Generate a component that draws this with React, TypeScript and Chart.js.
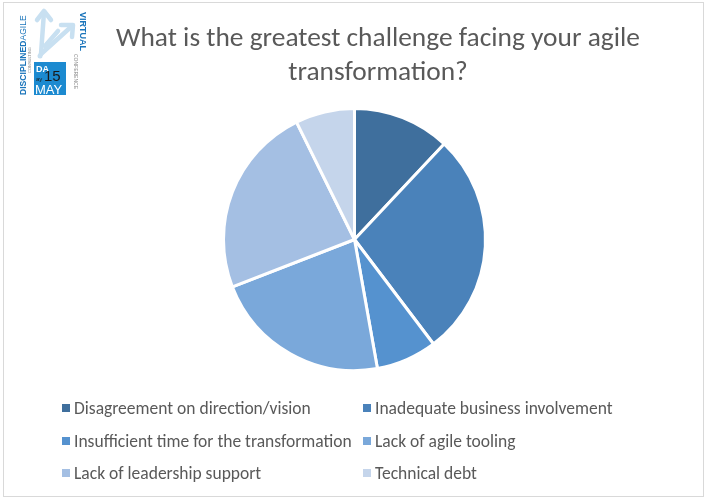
import React, { useEffect, useRef } from 'react';
import { Chart, registerables } from 'chart.js';

Chart.register(...registerables);

const titleLines = ['What is the greatest challenge facing your agile', 'transformation?'];

const categories = [
  'Disagreement on direction/vision',
  'Inadequate business involvement',
  'Insufficient time for the transformation',
  'Lack of agile tooling',
  'Lack of leadership support',
  'Technical debt',
];

const values = [12, 27.7, 7.5, 21.9, 23.6, 7.3];

const colors = ['#3F6F9D', '#4A82BA', '#5592CF', '#7AA8DA', '#A4BFE3', '#C5D5EB'];

const FONT = "Carlito, Lato, 'Open Sans', sans-serif";
const TEXT_COLOR = '#595959';

function Logo() {
  return (
    <div style={{ position: 'absolute', left: 0, top: 0, width: 100, height: 100 }}>
      <svg width={100} height={100} style={{ position: 'absolute', left: 0, top: 0 }}>
        <g stroke="#C8E0F1" strokeWidth={4.5} fill="none" strokeLinecap="round" strokeLinejoin="round">
          <line x1={41} y1={54} x2={44} y2={12} />
          <polyline points="37,20 44,11 51,20" />
          <line x1={41} y1={54} x2={72} y2={26} />
          <polyline points="61,25 73,25 72,37" />
          <line x1={45} y1={46} x2={58} y2={31} />
        </g>
        <circle cx={40} cy={56} r={2.5} fill="#C8E0F1" />
        <rect x={34} y={62} width={32} height={33} fill="#1C8AD0" />
        <text x={36} y={72} fontFamily="Liberation Sans, sans-serif" fontWeight="bold" fontSize={9} fill="#fff">DA</text>
        <text x={36} y={81} fontFamily="Liberation Sans, sans-serif" fontSize={6} fill="#1a1a1a">ay</text>
        <text x={44} y={81} fontFamily="Liberation Sans, sans-serif" fontSize={15} fill="#1a1a1a">15</text>
        <text x={35} y={94} fontFamily="Liberation Sans, sans-serif" fontSize={13} fill="#fff">MAY</text>
        <text
          transform="translate(26,95) rotate(-90)"
          fontFamily="Liberation Sans, sans-serif"
          fontSize={8.6}
          fill="#1B75BB"
        >
          <tspan fontWeight="bold">DISCIPLINED</tspan>
          <tspan>AGILE</tspan>
        </text>
        <text
          transform="translate(31,73) rotate(-90)"
          fontFamily="Liberation Sans, sans-serif"
          fontSize={4}
          fill="#888"
        >
          CONSULTING
        </text>
        <text
          transform="translate(80,12) rotate(90)"
          fontFamily="Liberation Sans, sans-serif"
          fontWeight="bold"
          fontSize={9}
          fill="#1B75BB"
        >
          VIRTUAL
        </text>
        <text
          transform="translate(74,54) rotate(90)"
          fontFamily="Liberation Sans, sans-serif"
          fontSize={5}
          fill="#888"
        >
          CONFERENCE
        </text>
      </svg>
    </div>
  );
}

export default function App() {
  const canvasRef = useRef<HTMLCanvasElement>(null);

  useEffect(() => {
    document.body.style.margin = '0';
    const chart = new Chart(canvasRef.current!, {
      type: 'pie',
      data: {
        labels: categories,
        datasets: [
          {
            data: values,
            backgroundColor: colors,
            borderColor: '#FFFFFF',
            borderWidth: 3,
            hoverBorderWidth: 3,
          },
        ],
      },
      options: {
        animation: false,
        responsive: false,
        maintainAspectRatio: false,
        radius: 131,
        layout: { padding: { left: 4, right: 0, top: 0, bottom: 21 } },
        plugins: {
          legend: { display: false },
          title: { display: false },
          tooltip: { enabled: false },
        },
      } as any,
    });
    return () => chart.destroy();
  }, []);

  const colX = [62, 363];
  const rowY = [408, 441, 473];

  return (
    <div
      style={{
        position: 'absolute',
        left: 0,
        top: 0,
        width: 705,
        height: 500,
        background: '#fff',
        overflow: 'hidden',
      }}
    >
      <div
        style={{
          position: 'absolute',
          left: 3,
          top: 2,
          width: 701,
          height: 495,
          border: '1px solid #D9D9D9',
          boxSizing: 'border-box',
        }}
      />
      <canvas
        ref={canvasRef}
        width={705}
        height={500}
        style={{ position: 'absolute', left: 0, top: 0, width: 705, height: 500 }}
      />
      <div
        style={{
          position: 'absolute',
          left: 78,
          top: 20,
          width: 600,
          textAlign: 'center',
          fontFamily: FONT,
          fontSize: 27.4,
          lineHeight: '34px',
          color: TEXT_COLOR,
        }}
      >
        {titleLines.map((l, i) => (
          <div key={i}>{l}</div>
        ))}
      </div>
      {categories.map((c, i) => {
        const x = colX[i % 2];
        const y = rowY[Math.floor(i / 2)];
        return (
          <div key={c}>
            <div
              style={{
                position: 'absolute',
                left: x,
                top: y - 4,
                width: 8,
                height: 8,
                background: colors[i],
              }}
            />
            <div
              style={{
                position: 'absolute',
                left: x + 12,
                top: y - 12,
                height: 24,
                lineHeight: '24px',
                whiteSpace: 'nowrap',
                fontFamily: FONT,
                fontSize: 17.5,
                color: TEXT_COLOR,
              }}
            >
              {c}
            </div>
          </div>
        );
      })}
      <Logo />
    </div>
  );
}
